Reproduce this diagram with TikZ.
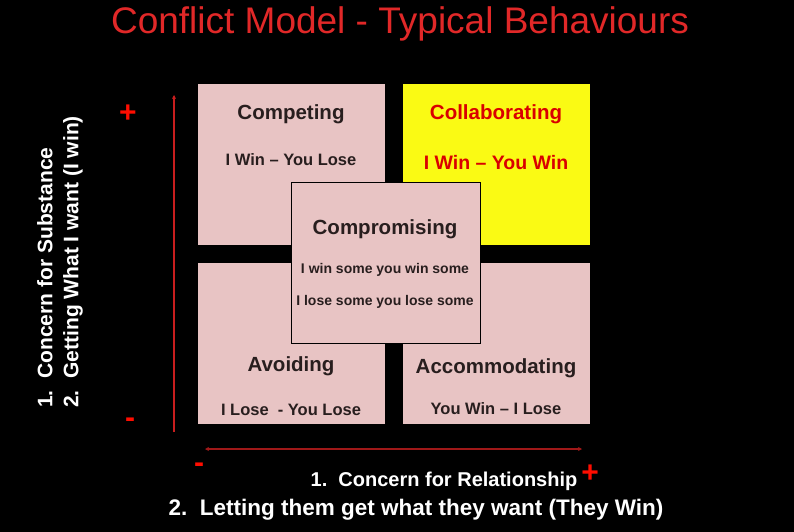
\documentclass[tikz,border=0pt]{standalone}
\usepackage{fontspec}
\usetikzlibrary{arrows.meta}
\setmainfont{Liberation Sans}
\definecolor{pinkbox}{RGB}{232,196,196}
\definecolor{titred}{RGB}{225,40,40}
\definecolor{axred}{RGB}{200,30,30}
\definecolor{yel}{RGB}{250,250,20}
\definecolor{txt}{RGB}{40,30,30}
\begin{document}
\begin{tikzpicture}[x=1pt,y=-1pt,
  quad/.style={draw=black,line width=0.6pt,fill=pinkbox,minimum width=188pt,minimum height=162pt,anchor=north west,inner sep=0pt},
  hd/.style={font=\bfseries\fontsize{20.5}{24}\selectfont,text=txt},
  sub/.style={font=\bfseries\fontsize{16.5}{19}\selectfont,text=txt},
  ax/.style={font=\bfseries\fontsize{21}{26}\selectfont,text=white},
  sign/.style={font=\bfseries\fontsize{30}{30}\selectfont,text=red!90!orange}]
\fill[black] (0,0) rectangle (794,532);
\useasboundingbox (0,0) rectangle (794,532);
\node[text=titred,font=\fontsize{37}{40}\selectfont] (title) at (400,24) {Conflict Model - Typical Behaviours};
\node[quad] (comp) at (197,83) {};
\node[quad,fill=yel] (coll) at (402,83) {};
\node[quad] (avoid) at (197,262) {};
\node[quad] (acc) at (402,262) {};
\node[quad,minimum width=189pt,minimum height=161pt] (cmpr) at (291,182) {};
\node[hd] (t1) at (291,114) {Competing};
\node[sub] (s1) at (291,160) {I Win – You Lose};
\node[hd,text=red!85!black] (t2) at (496,114) {Collaborating};
\node[hd,text=red!85!black,font=\bfseries\fontsize{19.5}{22}\selectfont] (s2) at (496,163) {I Win – You Win};
\node[hd] (t3) at (385,229) {Compromising};
\node[sub,font=\bfseries\fontsize{14}{16}\selectfont] (s3a) at (385,270) {I win some you win some};
\node[sub,font=\bfseries\fontsize{14}{16}\selectfont] (s3b) at (385,302) {I lose some you lose some};
\node[hd] (t4) at (291,366) {Avoiding};
\node[sub] (s4) at (291,410) {I Lose\ \ - You Lose};
\node[hd] (t5) at (496,368) {Accommodating};
\node[sub] (s5) at (496,409) {You Win – I Lose};
\coordinate (vt) at (174,95);
\coordinate (vb) at (174,432);
\draw[axred,line width=1.6pt,-{Stealth[length=4pt,width=4pt]}] (vb) -- (vt);
\coordinate (hl) at (205,449);
\coordinate (hr) at (582,449);
\draw[axred!80!black,line width=1.6pt,{Stealth[length=4pt,width=4pt]}-{Stealth[length=4pt,width=4pt]}] (hl) -- (hr);
\node[sign] (p1) at (128,114) {+};
\node[sign] (m1) at (130,423) {-};
\node[sign] (m2) at (199,468) {-};
\node[sign] (p2) at (590,474) {+};
\node[ax,rotate=90,align=left,anchor=center] (vlab) at (60,262) {1.\ \ Concern for Substance\\2.\ \ Getting What I want (I win)};
\node[ax,font=\bfseries\fontsize{20}{22}\selectfont] (h1) at (444,481) {1.\ \ Concern for Relationship};
\node[ax,font=\bfseries\fontsize{22.5}{26}\selectfont] (h2) at (416,510) {2.\ \ Letting them get what they want (They Win)};
\end{tikzpicture}
\end{document}
